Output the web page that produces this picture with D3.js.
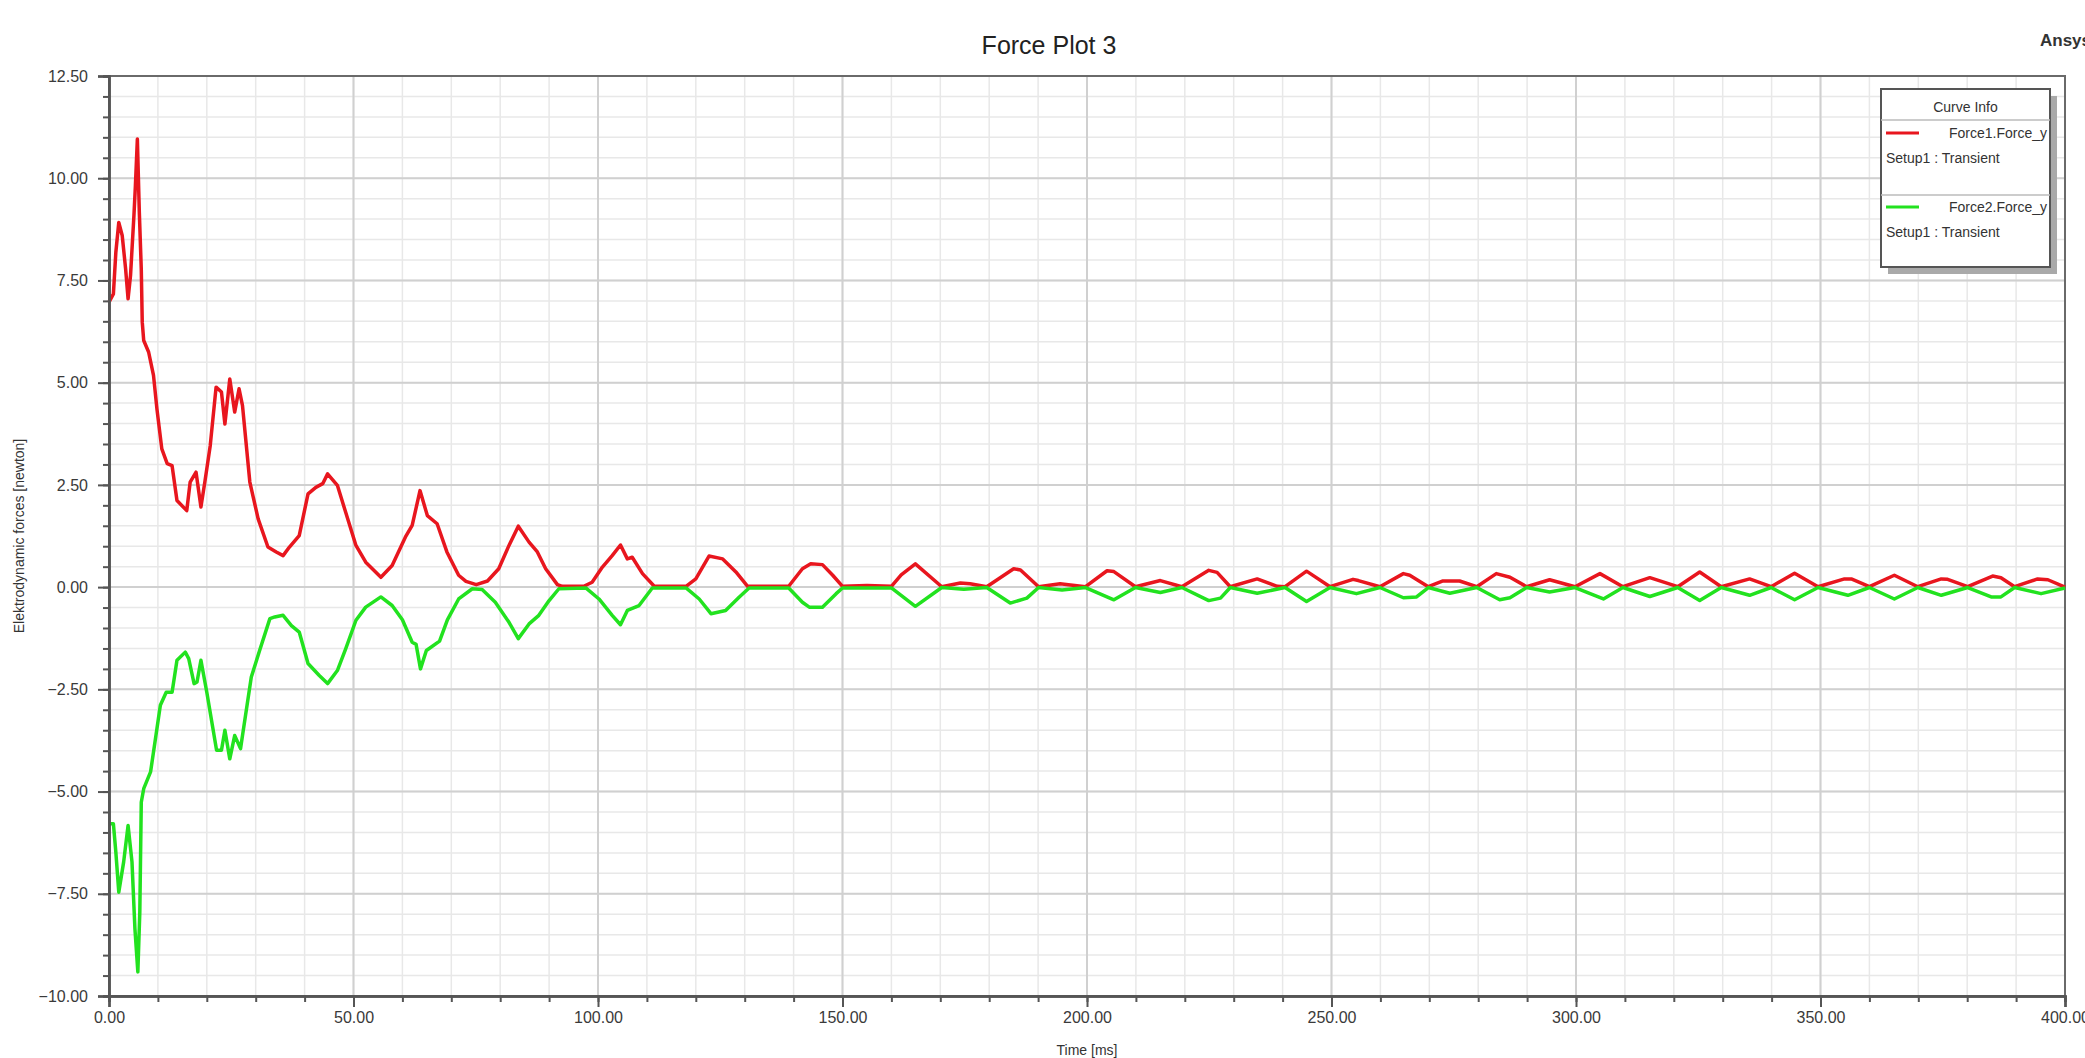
<!DOCTYPE html>
<html>
<head>
<meta charset="utf-8">
<script src="https://cdn.jsdelivr.net/npm/d3@7"></script>
<style>
  html, body { margin: 0; padding: 0; background: #ffffff; }
  svg { display: block; font-family: "Liberation Sans", Arial, sans-serif; }
</style>
</head>
<body>
<svg id="chart" width="2085" height="1058"></svg>
<script>
// ---------- data ----------
const chartTitle = "Force Plot 3";
const xLabel = "Time [ms]";
const yLabel = "Elektrodynamic forces [newton]";
const xMajorTicks = [0, 50, 100, 150, 200, 250, 300, 350, 400];
const yMajorTicks = [-10, -7.5, -5, -2.5, 0, 2.5, 5, 7.5, 10, 12.5];
const legendTitle = "Curve Info";
const seriesNames = ["Force1.Force_y", "Force2.Force_y"];
const seriesSetup = ["Setup1 : Transient", "Setup1 : Transient"];

// Force1.Force_y  (time ms, value N)
const force1Time = [0,0.9,1.4,2.0,2.7,3.4,3.9,4.4,5.1,5.4,5.8,6.2,6.6,6.8,7.1,8.1,9.1,9.8,10.8,11.9,12.9,13.9,15.9,16.6,17.8,18.8,19.6,20.7,21.9,23.0,23.7,24.7,25.7,26.6,27.3,28.8,30.5,32.5,34.2,35.6,36.9,38.9,40.7,42.3,43.7,44.7,46.7,48.4,50.5,52.5,55.6,57.9,60.6,62,63.6,65.1,67.1,69.1,71.5,73,75.1,77.4,79.7,81.8,83.7,85.9,87.6,89.3,91.7,92.7,97.1,98.8,100.9,102.9,104.6,106,107,109.1,111.5,118,120,122.7,125.5,128.2,130.6,139,141.8,143.5,145.9,148,150,155,160,162,164.9,170.3,174.1,176.1,179.5,185,186.4,190.1,194.5,196.2,199.7,204.1,205.5,209.9,215,219.4,224.9,226.6,229.3,234.8,238.9,240.5,244.9,249.7,254.4,255.5,259.9,264.7,266,269.8,272.8,276.2,279.7,283.7,286.5,289.9,294.6,299.8,304.9,309.6,315.1,320.8,325.3,329.7,335.5,339.9,344.7,349.5,354.9,356.3,360,365.1,369.9,374.7,376,380.1,385.2,386.9,389.7,394.4,396.5,400];
const force1Value = [6.97,7.17,8.19,8.92,8.6,7.78,7.05,7.62,9.09,9.82,10.96,9.17,7.78,6.48,6.03,5.75,5.18,4.36,3.38,3.02,2.97,2.12,1.87,2.57,2.81,1.96,2.57,3.46,4.89,4.77,3.99,5.09,4.28,4.85,4.44,2.57,1.67,0.98,0.86,0.77,0.98,1.26,2.28,2.44,2.53,2.77,2.49,1.83,1.02,0.61,0.24,0.53,1.22,1.51,2.36,1.75,1.55,0.86,0.29,0.14,0.06,0.15,0.45,1.02,1.49,1.1,0.86,0.45,0.06,0.02,0.02,0.12,0.49,0.77,1.03,0.69,0.73,0.33,0.02,0.02,0.2,0.76,0.69,0.37,0.02,0.02,0.45,0.57,0.55,0.29,0.02,0.04,0.02,0.3,0.57,0.01,0.1,0.08,0.01,0.45,0.42,0.01,0.08,0.06,0.01,0.4,0.38,0.01,0.16,0.01,0.41,0.36,0.01,0.2,0.02,0.01,0.39,0.01,0.19,0.16,0.01,0.33,0.29,0.01,0.15,0.15,0.01,0.33,0.24,0.01,0.18,0.01,0.33,0.01,0.23,0.01,0.37,0.01,0.2,0.01,0.34,0.01,0.2,0.2,0.01,0.29,0.01,0.2,0.19,0.01,0.27,0.23,0.01,0.2,0.18,0.0];

// Force2.Force_y  (time ms, value N)
const force2Time = [0,0.9,1.4,2.0,3.0,3.9,4.7,5.3,5.9,6.3,6.6,7.1,8.5,9.5,10.5,11.7,12.9,13.9,15.6,16.3,17.4,18,18.8,20,22,23,23.7,24.7,25.7,26.9,27.4,29.1,30.8,32.9,33.9,35.6,37.3,38.9,40.7,43,44.7,46.7,48.4,50.5,52.5,55.6,57.9,60,62,62.8,63.7,64.9,67.6,69.2,71.5,74.3,76.3,79,81.8,83.7,85.9,87.9,90,92,97.5,100.2,102.9,104.6,106,108.4,111.1,118,120.7,123.1,126.1,128.9,130.9,139,141.8,143.2,145.9,148.7,150,160,164.9,170.3,174.8,179.5,184.3,187.7,190.1,194.9,199.7,205.5,209.9,215,219.4,224.9,227.3,229.3,234.8,240.5,244.9,249.7,255.1,259.9,264.7,267.4,269.8,274.2,279.7,284.4,286.5,289.9,294.6,299.8,305.6,309.6,315.1,320.8,325.3,329.7,335.5,339.9,344.7,349.5,355.6,360,365.1,369.9,374.7,380.1,384.9,386.9,389.7,395.1,400];
const force2Value = [-5.79,-5.79,-6.48,-7.46,-6.72,-5.83,-6.72,-8.35,-9.41,-7.95,-5.26,-4.93,-4.52,-3.71,-2.89,-2.57,-2.57,-1.79,-1.59,-1.75,-2.36,-2.32,-1.79,-2.57,-3.99,-3.99,-3.5,-4.2,-3.63,-3.95,-3.55,-2.2,-1.55,-0.77,-0.73,-0.69,-0.94,-1.1,-1.87,-2.16,-2.36,-2.04,-1.51,-0.81,-0.49,-0.24,-0.45,-0.8,-1.35,-1.4,-2.0,-1.55,-1.32,-0.8,-0.29,-0.04,-0.06,-0.37,-0.86,-1.26,-0.9,-0.69,-0.33,-0.04,-0.02,-0.29,-0.69,-0.92,-0.57,-0.45,-0.02,-0.02,-0.29,-0.65,-0.57,-0.24,-0.02,-0.02,-0.37,-0.49,-0.49,-0.16,-0.02,-0.02,-0.47,-0.01,-0.05,-0.01,-0.39,-0.27,-0.01,-0.07,-0.01,-0.31,-0.01,-0.13,-0.01,-0.33,-0.27,-0.01,-0.15,-0.01,-0.35,-0.01,-0.16,-0.01,-0.26,-0.24,-0.01,-0.15,-0.01,-0.31,-0.26,-0.01,-0.12,-0.01,-0.29,-0.01,-0.23,-0.01,-0.33,-0.01,-0.2,-0.01,-0.31,-0.01,-0.2,-0.01,-0.29,-0.01,-0.2,-0.01,-0.24,-0.24,-0.01,-0.16,-0.02];

const seriesColors = ["#e8161e", "#22e21f"];

// ---------- layout ----------
const W = 2085, H = 1058;
const plot = { left: 109, right: 2065, top: 76, bottom: 996 };

const svg = d3.select("#chart");

const x = d3.scaleLinear().domain([0, 400]).range([plot.left, plot.right]);
const y = d3.scaleLinear().domain([-10, 12.5]).range([plot.bottom, plot.top]);

const xMinor = d3.range(0, 400.001, 10);
const yMinor = d3.range(-10, 12.5001, 0.5);

// grid
const grid = svg.append("g");
grid.selectAll("line.xmin").data(xMinor).join("line")
  .attr("x1", d => x(d)).attr("x2", d => x(d))
  .attr("y1", plot.top).attr("y2", plot.bottom)
  .attr("stroke", "#e8e8e8").attr("stroke-width", 1.5);
grid.selectAll("line.ymin").data(yMinor).join("line")
  .attr("x1", plot.left).attr("x2", plot.right)
  .attr("y1", d => y(d)).attr("y2", d => y(d))
  .attr("stroke", "#e8e8e8").attr("stroke-width", 1.5);
grid.selectAll("line.xmaj").data(xMajorTicks).join("line")
  .attr("x1", d => x(d)).attr("x2", d => x(d))
  .attr("y1", plot.top).attr("y2", plot.bottom)
  .attr("stroke", "#d0d0d0").attr("stroke-width", 2);
grid.selectAll("line.ymaj").data(yMajorTicks).join("line")
  .attr("x1", plot.left).attr("x2", plot.right)
  .attr("y1", d => y(d)).attr("y2", d => y(d))
  .attr("stroke", "#d0d0d0").attr("stroke-width", 2);

// frame (top and right)
svg.append("rect")
  .attr("x", plot.left).attr("y", plot.top)
  .attr("width", plot.right - plot.left).attr("height", plot.bottom - plot.top)
  .attr("fill", "none").attr("stroke", "#6a6a6a").attr("stroke-width", 2);

// curves
const series = [
  force1Time.map((t, i) => [t, force1Value[i]]),
  force2Time.map((t, i) => [t, force2Value[i]])
];
const line = d3.line().x(d => x(d[0])).y(d => y(d[1]));
svg.append("g").selectAll("path").data(series).join("path")
  .attr("d", line)
  .attr("fill", "none")
  .attr("stroke", (d, i) => seriesColors[i])
  .attr("stroke-width", 3.5)
  .attr("stroke-linejoin", "round");

// axes
const fmt = d3.format(".2f");
const axisStyle = g => {
  g.select(".domain").attr("stroke", "#555").attr("stroke-width", 2.5);
  g.selectAll(".tick line").attr("stroke", "#555").attr("stroke-width", 2);
  g.selectAll(".tick text").attr("fill", "#3a3a3a")
    .style("font-size", "16px").style("font-family", "'Liberation Sans', Arial, sans-serif");
};

svg.append("g").attr("transform", `translate(0,${plot.bottom})`)
  .call(d3.axisBottom(x).tickValues(xMinor).tickSize(6).tickFormat(""))
  .call(axisStyle);
svg.append("g").attr("transform", `translate(0,${plot.bottom})`)
  .call(d3.axisBottom(x).tickValues(xMajorTicks).tickSize(11).tickPadding(5).tickFormat(fmt))
  .call(axisStyle);

svg.append("g").attr("transform", `translate(${plot.left},0)`)
  .call(d3.axisLeft(y).tickValues(yMinor).tickSize(6).tickFormat(""))
  .call(axisStyle);
svg.append("g").attr("transform", `translate(${plot.left},0)`)
  .call(d3.axisLeft(y).tickValues(yMajorTicks).tickSize(11).tickPadding(10).tickFormat(fmt))
  .call(axisStyle);

// titles
svg.append("text").attr("x", 1049).attr("y", 54)
  .attr("text-anchor", "middle").style("font-size", "25px").attr("fill", "#222")
  .text(chartTitle);
svg.append("text").attr("x", 2040).attr("y", 46)
  .style("font-size", "17px").style("font-weight", "bold").attr("fill", "#333")
  .text("Ansys");
svg.append("text").attr("x", (plot.left + plot.right) / 2).attr("y", 1055)
  .attr("text-anchor", "middle").style("font-size", "14px").attr("fill", "#333")
  .text(xLabel);
svg.append("text")
  .attr("transform", `translate(24,${(plot.top + plot.bottom) / 2}) rotate(-90)`)
  .attr("text-anchor", "middle").style("font-size", "14px").attr("fill", "#333")
  .text(yLabel);

// legend
const lg = { x: 1881, y: 89, w: 169, h: 178 };
const legend = svg.append("g");
legend.append("rect").attr("x", lg.x + 7).attr("y", lg.y + 7)
  .attr("width", lg.w).attr("height", lg.h).attr("fill", "#a9a9a9");
legend.append("rect").attr("x", lg.x).attr("y", lg.y)
  .attr("width", lg.w).attr("height", lg.h)
  .attr("fill", "#ffffff").attr("stroke", "#555").attr("stroke-width", 2);
legend.append("text").attr("x", lg.x + lg.w / 2).attr("y", lg.y + 23)
  .attr("text-anchor", "middle").style("font-size", "14px").attr("fill", "#333")
  .text(legendTitle);
legend.append("line").attr("x1", lg.x).attr("x2", lg.x + lg.w)
  .attr("y1", lg.y + 31).attr("y2", lg.y + 31).attr("stroke", "#bbb").attr("stroke-width", 1.5);
legend.append("line").attr("x1", lg.x).attr("x2", lg.x + lg.w)
  .attr("y1", lg.y + 106).attr("y2", lg.y + 106).attr("stroke", "#bbb").attr("stroke-width", 1.5);

seriesNames.forEach((name, i) => {
  const yy = lg.y + 44 + i * 74;
  legend.append("line").attr("x1", lg.x + 5).attr("x2", lg.x + 38)
    .attr("y1", yy).attr("y2", yy)
    .attr("stroke", seriesColors[i]).attr("stroke-width", 3);
  legend.append("text").attr("x", lg.x + lg.w - 3).attr("y", yy + 5)
    .attr("text-anchor", "end").style("font-size", "14px").attr("fill", "#333")
    .text(name);
  legend.append("text").attr("x", lg.x + 5).attr("y", yy + 30)
    .style("font-size", "14px").attr("fill", "#333")
    .text(seriesSetup[i]);
});
</script>
</body>
</html>
